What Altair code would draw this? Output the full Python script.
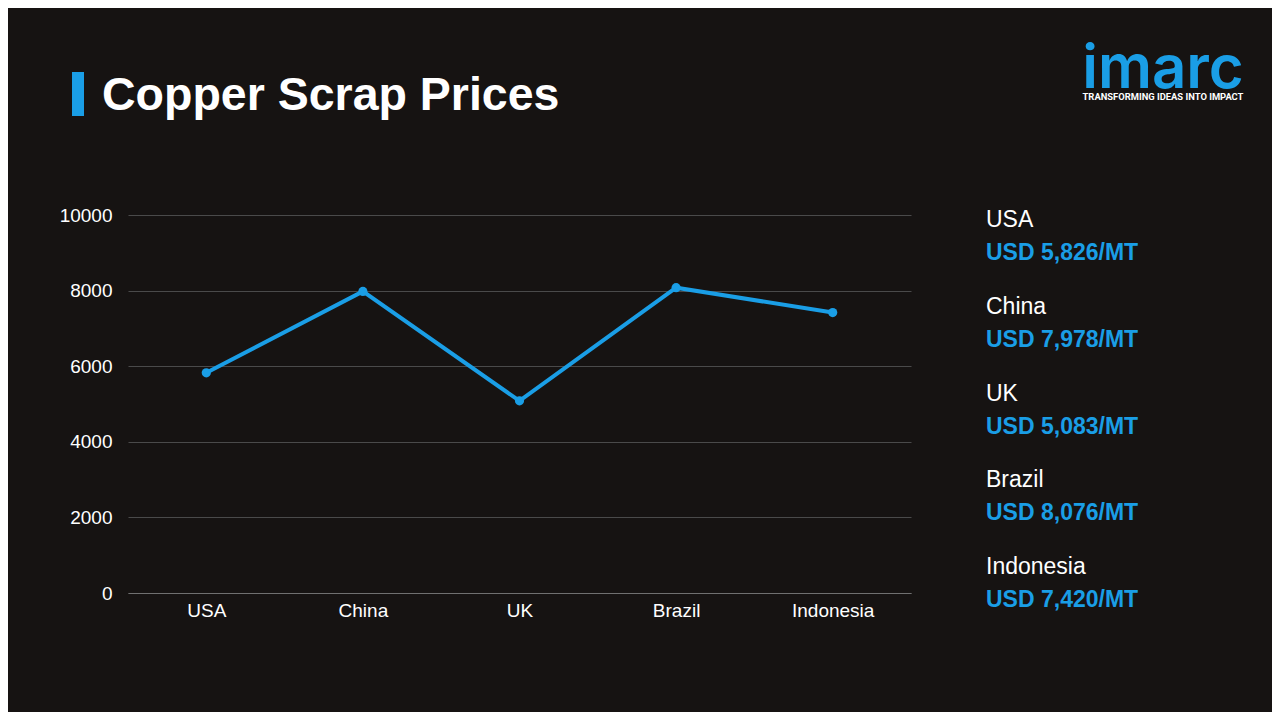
import altair as alt
import pandas as pd

# ---- data ----
countries = ["USA", "China", "UK", "Brazil", "Indonesia"]
prices = [5826, 7978, 5083, 8076, 7420]
price_labels = ["USD 5,826/MT", "USD 7,978/MT", "USD 5,083/MT", "USD 8,076/MT", "USD 7,420/MT"]
y_ticks = [0, 2000, 4000, 6000, 8000, 10000]
order = list(range(len(countries)))

TITLE = "Copper Scrap Prices"
LOGO = "imarc"
TAGLINE = "TRANSFORMING IDEAS INTO IMPACT"

BLUE = "#1a9ee6"
BG = "#161312"
FONT = "Liberation Sans, Arial, sans-serif"

df = pd.DataFrame({"country": countries, "price": prices, "label": price_labels, "rank": order})
one = pd.DataFrame({"title": [TITLE], "logo": [LOGO], "tag": [TAGLINE]})

base = alt.Chart(df)

x_enc = alt.X(
    "country:N",
    sort=countries,
    axis=alt.Axis(
        title=None, labelAngle=0, labelColor="#ffffff", labelFontSize=19, labelFont=FONT,
        labelPadding=8, ticks=False, grid=False, domainColor="#707070", domainWidth=1,
    ),
)

line = base.mark_line(color=BLUE, strokeWidth=4).encode(
    x=x_enc,
    y=alt.Y(
        "price:Q",
        scale=alt.Scale(domain=[0, 10000]),
        axis=alt.Axis(
            values=y_ticks, format="d", title=None, labelPadding=16, ticks=False, domain=False,
            gridColor="#4a4a4a", gridWidth=1, labelColor="#ffffff", labelFontSize=19,
            labelFont=FONT,
        ),
    ),
)

pts = base.mark_circle(color=BLUE, size=85, opacity=1).encode(
    x=alt.X("country:N", sort=countries),
    y=alt.Y("price:Q", scale=alt.Scale(domain=[0, 10000]), axis=None),
)

side_scale = alt.Scale(domain=[0, 4], range=[5, 352])

names = base.mark_text(
    align="left", baseline="middle", font=FONT, fontSize=23, color="#ffffff"
).encode(
    x=alt.value(858),
    y=alt.Y("rank:Q", scale=side_scale, axis=None),
    text="country:N",
)

vals = base.mark_text(
    align="left", baseline="middle", font=FONT, fontSize=23, fontWeight="bold", color=BLUE, dy=33
).encode(
    x=alt.value(858),
    y=alt.Y("rank:Q", scale=side_scale, axis=None),
    text="label:N",
)

title = alt.Chart(one).mark_text(
    align="left", baseline="alphabetic", font=FONT, fontSize=46.5, fontWeight="bold", color="#ffffff"
).encode(x=alt.value(-26), y=alt.value(-105), text="title:N")

bar = alt.Chart(one).mark_rect(color=BLUE).encode(
    x=alt.value(-56), x2=alt.value(-44), y=alt.value(-143), y2=alt.value(-99)
)

logo = alt.Chart(one).mark_text(
    align="center", baseline="alphabetic", font="Inter", fontSize=60, fontWeight=600, color=BLUE
).encode(x=alt.value(1035), y=alt.value(-127), text="logo:N")

tag = alt.Chart(one).mark_text(
    align="center", baseline="alphabetic", font="Roboto", fontSize=9.4, fontWeight="bold", color="#ffffff"
).encode(x=alt.value(1035), y=alt.value(-115), text="tag:N")

chart = (
    alt.layer(line, pts, names, vals, title, bar, logo, tag)
    .resolve_scale(y="independent")
    .properties(
        width=783,
        height=378,
        autosize="none",
        padding={"left": 120, "top": 207, "right": 361, "bottom": 119},
        background=BG,
    )
    .configure_view(stroke=None)
)

chart.save("out.html", embed_options={"renderer": "svg", "actions": False})
